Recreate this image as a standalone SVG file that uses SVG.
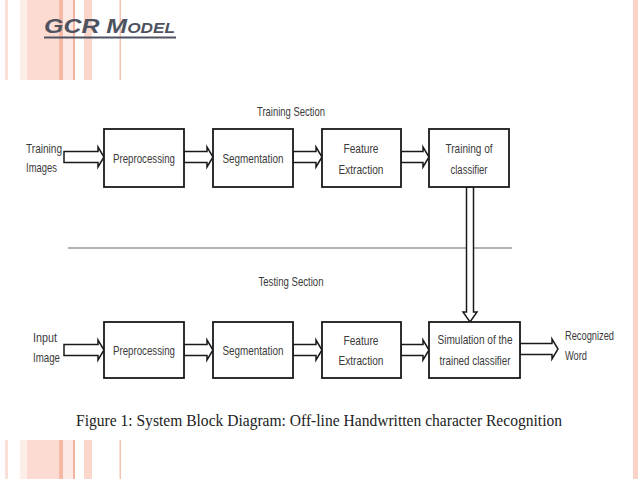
<svg xmlns="http://www.w3.org/2000/svg" width="638" height="479" viewBox="0 0 638 479">
<style>
.box{fill:#fff;stroke:#1a1a1a;stroke-width:1.8}
.arr{fill:#fff;stroke:#1a1a1a;stroke-width:1.5;stroke-linejoin:miter}
.t{font-family:"Liberation Sans",Arial,sans-serif;font-size:13.5px;fill:#3a3a3a}
.tc{text-anchor:middle}
.cap{font-family:"Liberation Serif","Times New Roman",serif;font-size:16px;fill:#222}
.title{font-family:"Liberation Sans",Arial,sans-serif;font-weight:bold;font-style:italic;fill:#4f5360}
</style>
<rect width="638" height="479" fill="#fff"/>
<defs>
<g id="stripes">
<rect x="5" y="0" width="3" height="1" fill="#fbe0d8"/>
<rect x="27" y="0" width="33" height="1" fill="#fcdcd2"/>
<rect x="20" y="0" width="7" height="1" fill="#fdeee9"/>
<rect x="59" y="0" width="4" height="1" fill="#f5b9a6"/>
<rect x="63" y="0" width="10" height="1" fill="#fde9e3"/>
<rect x="73" y="0" width="2" height="1" fill="#f2b4a0"/>
<rect x="84" y="0" width="8" height="1" fill="#fbd6ca"/>
<rect x="119.5" y="0" width="1.5" height="1" fill="#f5c2b2"/>
</g>
</defs>
<g id="deco">
<use href="#stripes" transform="scale(1,80)"/>
<use href="#stripes" transform="translate(0,440) scale(1,39)"/>
<rect x="633" y="0" width="5" height="479" fill="#fbd3c6"/>
</g>
<g id="title">
<text class="title" x="44" y="33" textLength="131" lengthAdjust="spacingAndGlyphs"><tspan font-size="21">GCR M</tspan><tspan font-size="14.5">ODEL</tspan></text>
<line x1="44" y1="37.5" x2="176" y2="37.5" stroke="#4f5360" stroke-width="1.8"/>
</g>
<g id="section-labels">
<text class="t tc" x="291" y="116" textLength="68" lengthAdjust="spacingAndGlyphs">Training Section</text>
<text class="t tc" x="291" y="286" textLength="65" lengthAdjust="spacingAndGlyphs">Testing Section</text>
<line x1="68" y1="248" x2="512" y2="248" stroke="#9a9a9a" stroke-width="1.6"/>
</g>
<g id="connectors">
<polygon class="arr" points="64,151.5 98,151.5 98,147 104,157 98,167 98,162.5 64,162.5"/>
<polygon class="arr" points="184,151.5 207,151.5 207,147 213,157 207,167 207,162.5 184,162.5"/>
<polygon class="arr" points="293,151.5 316,151.5 316,147 322,157 316,167 316,162.5 293,162.5"/>
<polygon class="arr" points="401,151.5 423,151.5 423,147 429,157 423,167 423,162.5 401,162.5"/>
<polygon class="arr" points="466.5,187 466.5,312 463,312 470,322 477,312 473.5,312 473.5,187"/>
<polygon class="arr" points="64,344.5 98,344.5 98,340 104,350 98,360 98,355.5 64,355.5"/>
<polygon class="arr" points="184,344.5 207,344.5 207,340 213,350 207,360 207,355.5 184,355.5"/>
<polygon class="arr" points="293,344.5 316,344.5 316,340 322,350 316,360 316,355.5 293,355.5"/>
<polygon class="arr" points="401,344.5 423,344.5 423,340 429,350 423,360 423,355.5 401,355.5"/>
<polygon class="arr" points="520,343.5 552,343.5 552,339 558,349 552,359 552,354.5 520,354.5"/>
</g>
<g id="in-train">
<text class="t" x="26" y="153" textLength="36" lengthAdjust="spacingAndGlyphs">Training</text>
<text class="t" x="26" y="172" textLength="31" lengthAdjust="spacingAndGlyphs">Images</text>
</g>
<g id="pre-train">
<rect class="box" x="104" y="129" width="80" height="58"/>
<text class="t tc" x="144" y="163" textLength="62" lengthAdjust="spacingAndGlyphs">Preprocessing</text>
</g>
<g id="seg-train">
<rect class="box" x="213" y="129" width="80" height="58"/>
<text class="t tc" x="253" y="163" textLength="61" lengthAdjust="spacingAndGlyphs">Segmentation</text>
</g>
<g id="feat-train">
<rect class="box" x="322" y="129" width="79" height="58"/>
<text class="t tc" x="361" y="153" textLength="35" lengthAdjust="spacingAndGlyphs">Feature</text>
<text class="t tc" x="361" y="174" textLength="45" lengthAdjust="spacingAndGlyphs">Extraction</text>
</g>
<g id="train-clf">
<rect class="box" x="429" y="129" width="80" height="58"/>
<text class="t tc" x="469" y="153" textLength="47" lengthAdjust="spacingAndGlyphs">Training of</text>
<text class="t tc" x="469" y="174" textLength="37" lengthAdjust="spacingAndGlyphs">classifier</text>
</g>
<g id="in-test">
<text class="t" x="33" y="342" textLength="24" lengthAdjust="spacingAndGlyphs">Input</text>
<text class="t" x="33" y="362" textLength="27" lengthAdjust="spacingAndGlyphs">Image</text>
</g>
<g id="pre-test">
<rect class="box" x="104" y="322" width="80" height="56"/>
<text class="t tc" x="144" y="355" textLength="62" lengthAdjust="spacingAndGlyphs">Preprocessing</text>
</g>
<g id="seg-test">
<rect class="box" x="213" y="322" width="80" height="56"/>
<text class="t tc" x="253" y="355" textLength="61" lengthAdjust="spacingAndGlyphs">Segmentation</text>
</g>
<g id="feat-test">
<rect class="box" x="322" y="322" width="79" height="56"/>
<text class="t tc" x="361" y="345" textLength="35" lengthAdjust="spacingAndGlyphs">Feature</text>
<text class="t tc" x="361" y="365" textLength="45" lengthAdjust="spacingAndGlyphs">Extraction</text>
</g>
<g id="sim-clf">
<rect class="box" x="429" y="322" width="91" height="56"/>
<text class="t tc" x="475" y="344" textLength="75" lengthAdjust="spacingAndGlyphs">Simulation of the</text>
<text class="t tc" x="475" y="365" textLength="71" lengthAdjust="spacingAndGlyphs">trained classifier</text>
</g>
<g id="out">
<text class="t" x="565" y="340" textLength="49" lengthAdjust="spacingAndGlyphs">Recognized</text>
<text class="t" x="565" y="360" textLength="22" lengthAdjust="spacingAndGlyphs">Word</text>
</g>
<g id="caption">
<text class="cap" x="76" y="426" textLength="486" lengthAdjust="spacingAndGlyphs">Figure 1: System Block Diagram: Off-line Handwritten character Recognition</text>
</g>
</svg>
